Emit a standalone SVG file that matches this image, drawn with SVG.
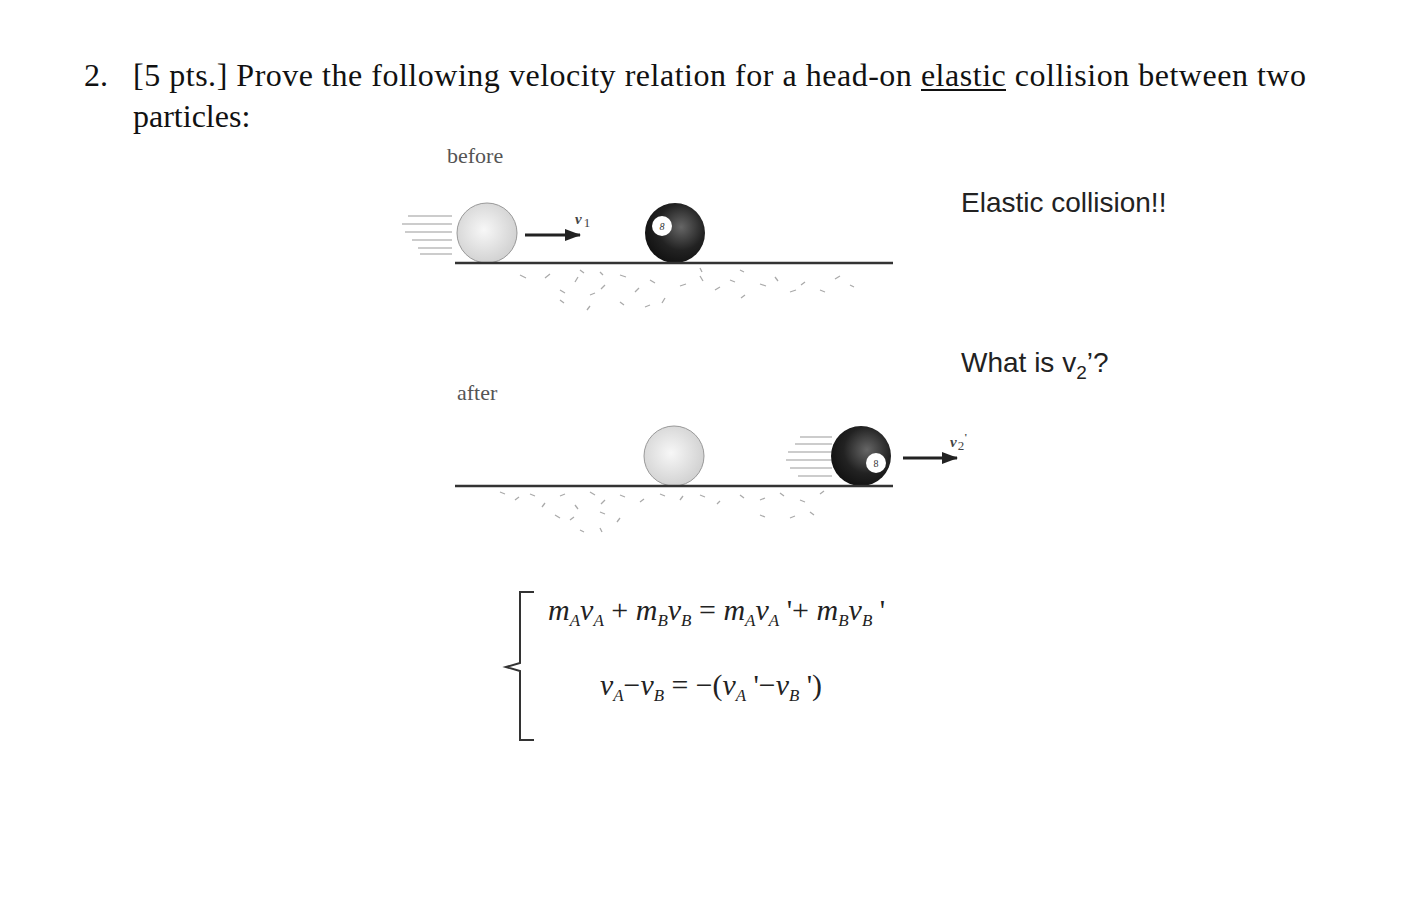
<svg xmlns="http://www.w3.org/2000/svg" width="1428" height="899" viewBox="0 0 1428 899">
<defs>
<style>
.t{font-family:"Liberation Serif",serif;font-size:32px;fill:#111}
.lab{font-family:"Liberation Serif",serif;font-size:22px;fill:#555}
.a{font-family:"Liberation Sans",sans-serif;font-size:28px;fill:#222}
.eq{font-family:"Liberation Serif",serif;font-style:italic;font-size:30px;fill:#222}
.sub{font-size:17px}
.gr{stroke:#333;stroke-width:2.5}
.spd{stroke:#bbb;stroke-width:1.5}
.spk{stroke:#aaa;stroke-width:1.3}
</style>
<radialGradient id="wg" cx="0.45" cy="0.45" r="0.6"><stop offset="0" stop-color="#f7f7f7"/><stop offset="1" stop-color="#cfcfcf"/></radialGradient>
<radialGradient id="bg" cx="0.6" cy="0.4" r="0.65"><stop offset="0" stop-color="#666"/><stop offset="0.6" stop-color="#222"/><stop offset="1" stop-color="#111"/></radialGradient>
<marker id="ar" markerWidth="16" markerHeight="12" refX="15" refY="6" orient="auto" markerUnits="userSpaceOnUse"><path d="M0,0 L16,6 L0,12 Z" fill="#222"/></marker>
</defs>
<rect width="1428" height="899" fill="#fff"/>
<text class="t" x="84" y="86">2.</text>
<text class="t" x="133" y="86" textLength="1173" lengthAdjust="spacing">[5 pts.] Prove the following velocity relation for a head-on elastic collision between two</text>
<line x1="921" y1="90" x2="1006" y2="90" stroke="#111" stroke-width="2"/>
<text class="t" x="133" y="127">particles:</text>

<g id="before">
<text class="lab" x="447" y="163">before</text>
<g class="spd"><line x1="408" y1="216" x2="452" y2="216"/><line x1="402" y1="224" x2="452" y2="224"/><line x1="405" y1="232" x2="452" y2="232"/><line x1="412" y1="240" x2="452" y2="240"/><line x1="418" y1="248" x2="452" y2="248"/><line x1="420" y1="254" x2="452" y2="254"/></g>
<circle cx="487" cy="233" r="30" fill="url(#wg)" stroke="#999"/>
<line x1="525" y1="235" x2="580" y2="235" stroke="#222" stroke-width="3" marker-end="url(#ar)"/>
<text x="575" y="224" font-family="Liberation Serif,serif" font-style="italic" font-weight="bold" font-size="15" fill="#444">v<tspan font-size="13" font-weight="normal" font-style="normal" dx="2" dy="3">1</tspan></text>
<circle cx="675" cy="233" r="30" fill="url(#bg)"/>
<circle cx="662" cy="226" r="10" fill="#fff"/>
<text x="662" y="230" text-anchor="middle" font-family="Liberation Serif,serif" font-style="italic" font-size="10" fill="#333">8</text>
<line class="gr" x1="455" y1="263" x2="893" y2="263"/>
<g class="spk"><path d="M520 275l6 3M545 278l5-4M560 290l5 3M575 282l3-5M590 295l5-2M605 285l-4 4M620 275l6 2M635 292l4-4M650 280l5 3M665 298l-3 5M680 286l6-2M700 276l3 5M715 290l5-3M730 280l5 2M745 295l-4 3M760 284l6 2M775 277l3 4M790 292l6-2M805 282l-4 3M820 290l5 2M835 279l5-3M850 285l4 2M560 300l4 3M590 306l-3 4M620 302l4 3M645 307l5-2M580 270l4 3M700 268l2 4M740 270l4 2M600 272l3 3"/></g>
</g>

<g id="after">
<text class="lab" x="457" y="400">after</text>
<circle cx="674" cy="456" r="30" fill="url(#wg)" stroke="#999"/>
<g class="spd"><line x1="800" y1="437" x2="832" y2="437"/><line x1="795" y1="444" x2="832" y2="444"/><line x1="788" y1="452" x2="832" y2="452"/><line x1="786" y1="460" x2="832" y2="460"/><line x1="790" y1="468" x2="832" y2="468"/><line x1="798" y1="476" x2="832" y2="476"/></g>
<circle cx="861" cy="456" r="30" fill="url(#bg)"/>
<circle cx="876" cy="463" r="10" fill="#fff"/>
<text x="876" y="467" text-anchor="middle" font-family="Liberation Serif,serif" font-size="10" fill="#333">8</text>
<line x1="903" y1="458" x2="957" y2="458" stroke="#222" stroke-width="3" marker-end="url(#ar)"/>
<text x="950" y="447" font-family="Liberation Serif,serif" font-style="italic" font-weight="bold" font-size="15" fill="#444">v<tspan font-size="13" font-weight="normal" font-style="normal" dx="1" dy="3">2</tspan><tspan dy="-9" font-size="11" font-style="normal">'</tspan></text>
<line class="gr" x1="455" y1="486" x2="893" y2="486"/>
<g class="spk"><path d="M500 492l5 2M515 500l4-3M530 494l5 2M545 503l-3 4M560 496l5-2M575 505l3 4M590 492l5 3M605 500l-4 4M620 495l5 2M640 502l4-3M660 494l5 2M680 500l3-4M700 495l5 2M720 501l-3 3M740 495l4 3M760 500l5-2M780 493l4 3M800 500l5 2M820 494l4-3M555 515l5 3M570 520l4-3M600 512l5 2M620 518l-3 4M580 530l4 2M600 528l2 4M760 515l5 2M790 518l5-2M810 512l4 3"/></g>
</g>

<g id="notes">
<text class="a" x="961" y="212">Elastic collision!!</text>
<text class="a" x="961" y="372">What is v<tspan font-size="19" dy="7">2</tspan><tspan dy="-7">’?</tspan></text>
</g>

<g id="equations">
<path d="M534,592 H520 V663 L506,667 L520,671 V740 H534" fill="none" stroke="#333" stroke-width="2"/>
<text class="eq" x="548" y="620">m<tspan class="sub" dy="6">A</tspan><tspan dy="-6">v</tspan><tspan class="sub" dy="6">A</tspan><tspan dy="-6" font-style="normal"> + </tspan>m<tspan class="sub" dy="6">B</tspan><tspan dy="-6">v</tspan><tspan class="sub" dy="6">B</tspan><tspan dy="-6" font-style="normal"> = </tspan>m<tspan class="sub" dy="6">A</tspan><tspan dy="-6">v</tspan><tspan class="sub" dy="6">A</tspan><tspan dy="-6" font-style="normal"> '+ </tspan>m<tspan class="sub" dy="6">B</tspan><tspan dy="-6">v</tspan><tspan class="sub" dy="6">B</tspan><tspan dy="-6" font-style="normal"> '</tspan></text>
<text class="eq" x="600" y="695" textLength="222" lengthAdjust="spacingAndGlyphs">v<tspan class="sub" dy="6">A</tspan><tspan dy="-6" font-style="normal">−</tspan>v<tspan class="sub" dy="6">B</tspan><tspan dy="-6" font-style="normal"> = −(</tspan>v<tspan class="sub" dy="6">A</tspan><tspan dy="-6" font-style="normal"> '−</tspan>v<tspan class="sub" dy="6">B</tspan><tspan dy="-6" font-style="normal"> ')</tspan></text>
</g>
</svg>
